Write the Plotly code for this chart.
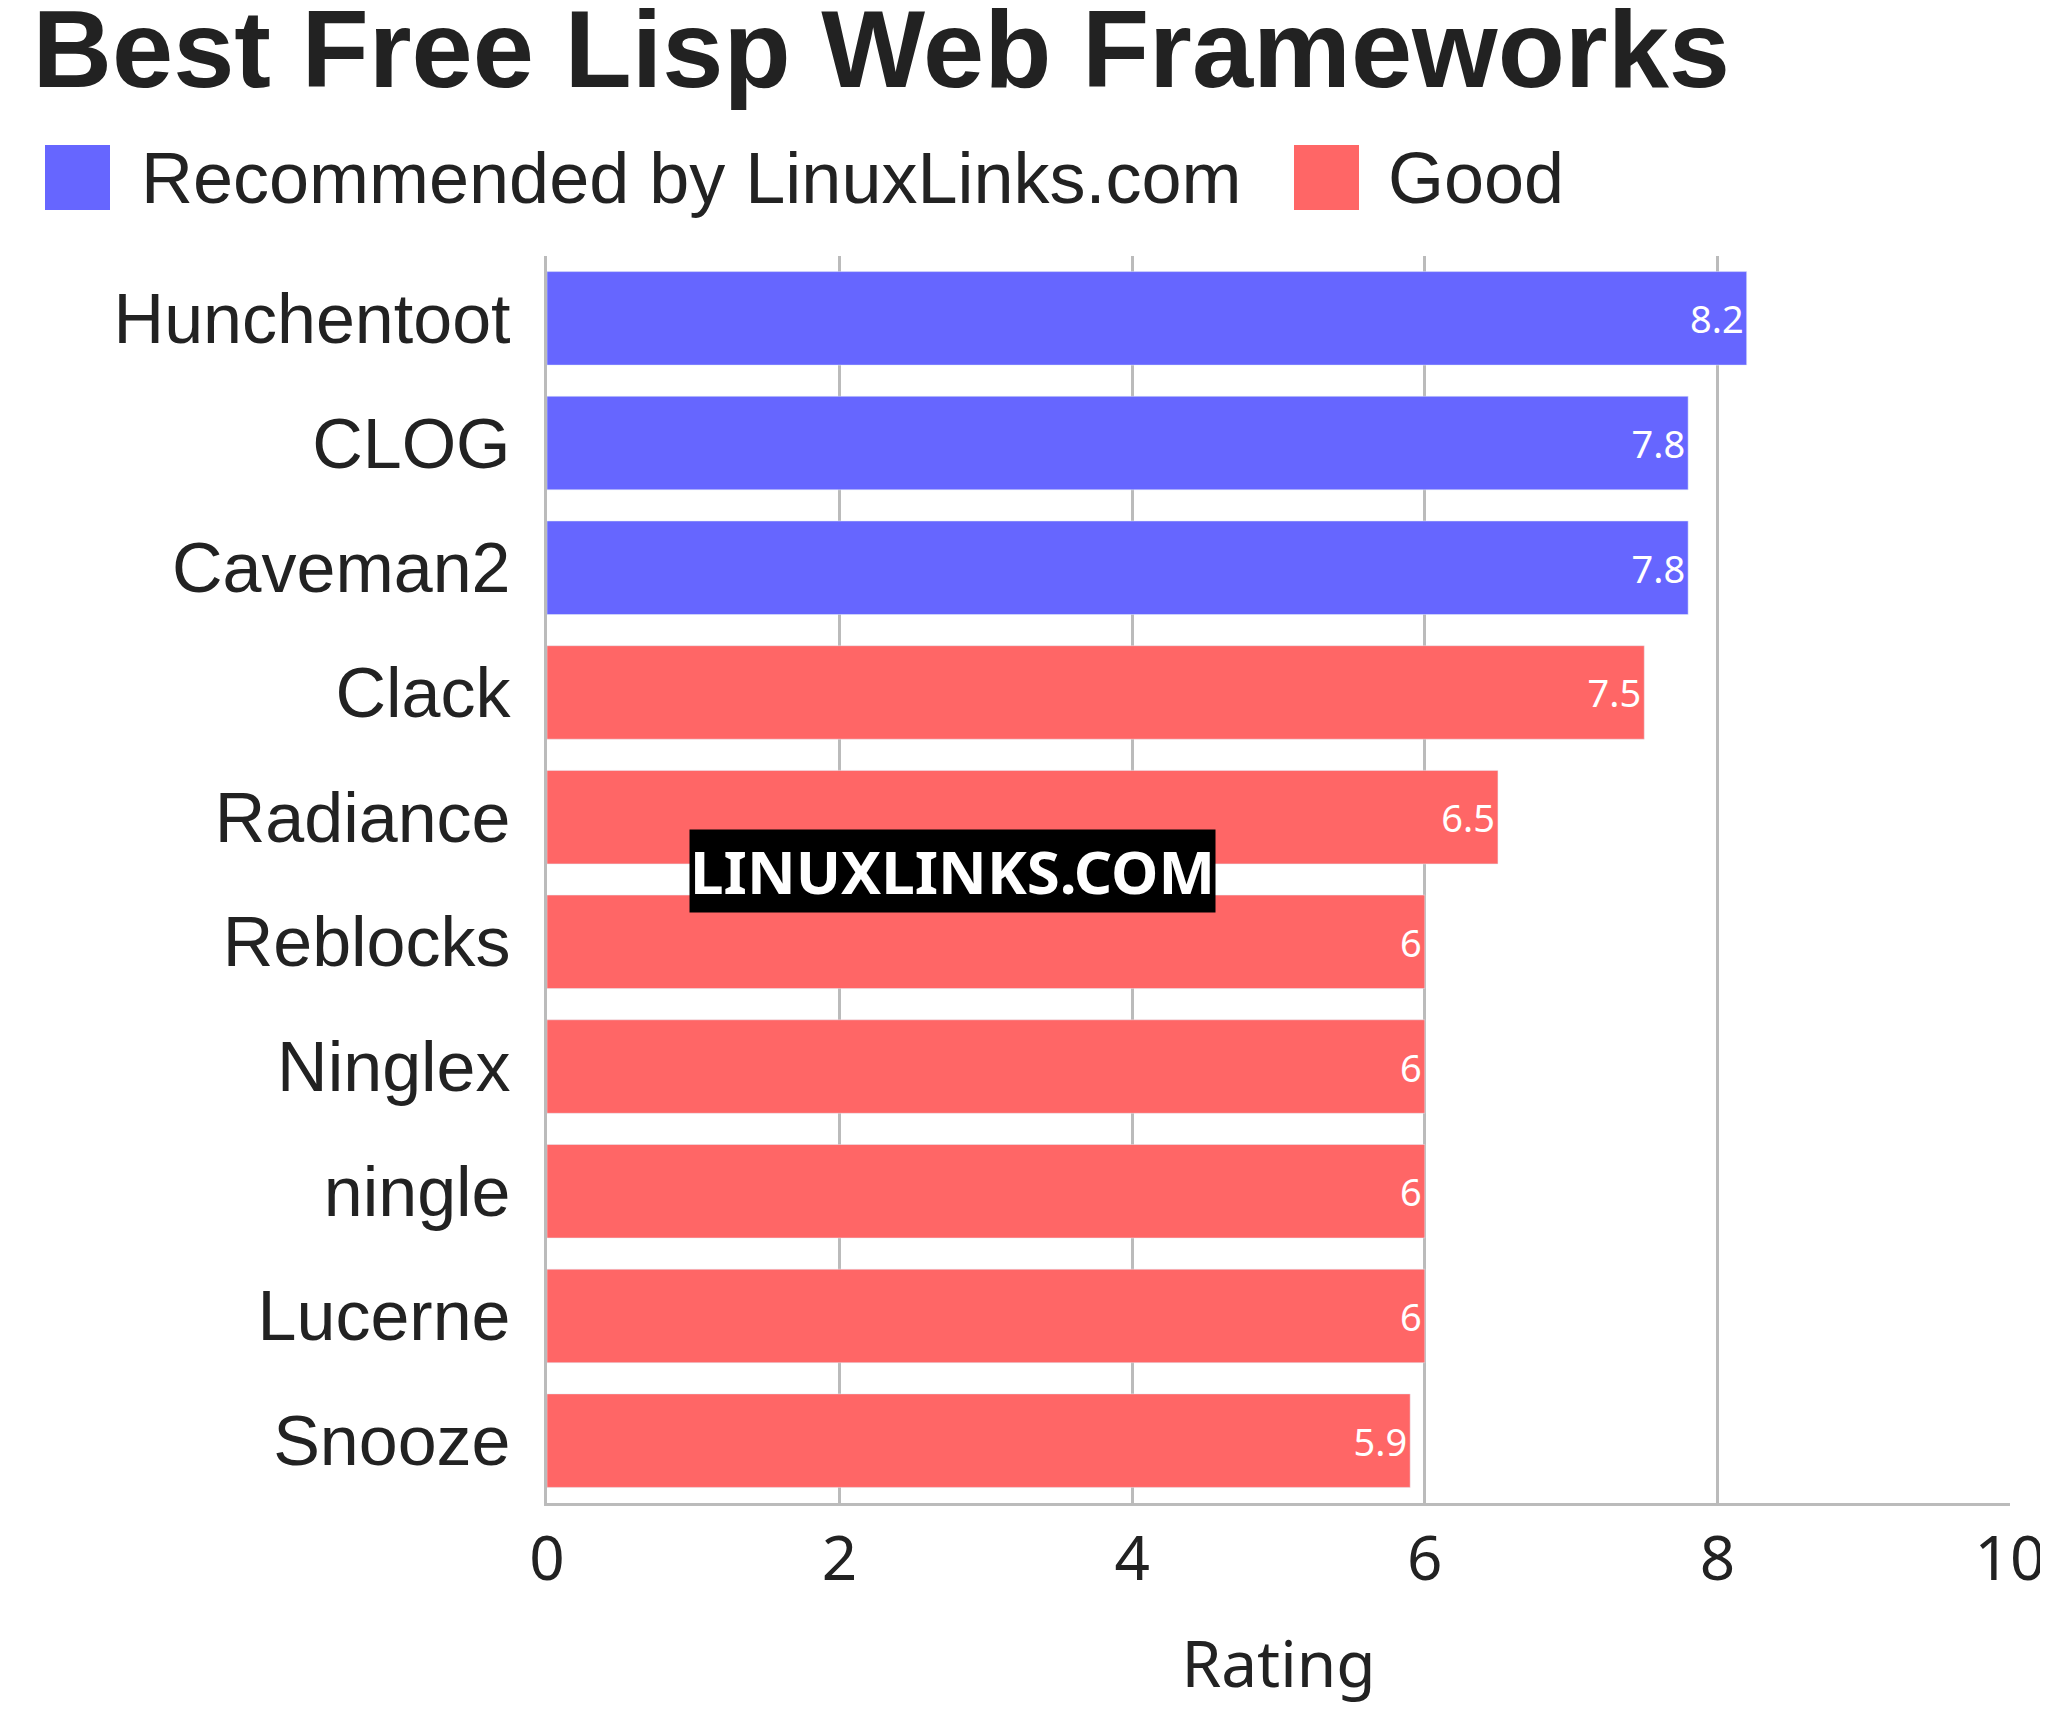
import plotly.graph_objects as go

names = ["Hunchentoot", "CLOG", "Caveman2", "Clack", "Radiance", "Reblocks", "Ninglex", "ningle", "Lucerne", "Snooze"]
ratings = [8.2, 7.8, 7.8, 7.5, 6.5, 6, 6, 6, 6, 5.9]
groups = ["Recommended by LinuxLinks.com"] * 3 + ["Good"] * 7
colors = {"Recommended by LinuxLinks.com": "#6666ff", "Good": "#ff6666"}

W, H, L, R, T, B = 2048, 1735, 539, 46, 248, 240
PW, PH = W - L - R, H - T - B
def px(x): return (x - L) / PW
def py(y): return (H - B - y) / PH

fig = go.Figure()
for g in ["Recommended by LinuxLinks.com", "Good"]:
    xs = [r for r, gg in zip(ratings, groups) if gg == g]
    ys = [n for n, gg in zip(names, groups) if gg == g]
    fig.add_trace(go.Bar(x=xs, y=ys, orientation="h", name=g, marker_color=colors[g], showlegend=False,
                         text=[str(v) for v in xs], textposition="inside", insidetextanchor="end",
                         textfont=dict(color="white", size=38, family="Noto Sans")))

fig.update_layout(
    width=W, height=H, plot_bgcolor="white", paper_bgcolor="white",
    margin=dict(l=L, r=R, t=T, b=B),
    bargap=0.25, barmode="overlay",
    title=dict(text="<b>Best Free Lisp Web Frameworks</b>", x=0.012, xanchor="left", y=0.999, yanchor="top",
               font=dict(family="Liberation Sans", size=110, color="#222")),
    xaxis=dict(range=[0, 10], dtick=2, showgrid=True, gridcolor="#bbbbbb", gridwidth=3,
               tickfont=dict(family="Noto Sans", size=62, color="#222"),
               title=dict(text="Rating", standoff=45, font=dict(family="Noto Sans", size=64, color="#222")),
               showline=True, linecolor="#bbbbbb", linewidth=3, zeroline=False, ticks="", ticklen=10),
    yaxis=dict(categoryorder="array", categoryarray=names[::-1], showline=True, linecolor="#bbbbbb",
               linewidth=3, tickfont=dict(family="Liberation Sans", size=70, color="#222"), ticksuffix=" "),
    font=dict(family="Liberation Sans"),
)
# manual legend
for g, x0, tx in [("Recommended by LinuxLinks.com", 37, 131), ("Good", 1286, 1378)]:
    fig.add_shape(type="rect", xref="paper", yref="paper", x0=px(x0), x1=px(x0 + 65), y0=py(202), y1=py(137),
                  fillcolor=colors[g], line_width=0)
    fig.add_annotation(text=g, xref="paper", yref="paper", x=px(tx), y=py(170), xanchor="left", yanchor="middle",
                       showarrow=False, font=dict(family="Liberation Sans", size=72, color="#222"))
fig.add_annotation(text="<b>LINUXLINKS.COM</b>", x=0.97, y=4.57, xref="x", yref="y", xanchor="left",
                   showarrow=False, bgcolor="black", font=dict(family="Noto Sans", size=60, color="white"),
                   borderpad=0)
fig.add_shape(type="line", xref="paper", yref="paper", x0=-1, x1=2, y0=py(1732), y1=py(1732),
              line=dict(color="black", width=3))
fig.write_html("out.html")
